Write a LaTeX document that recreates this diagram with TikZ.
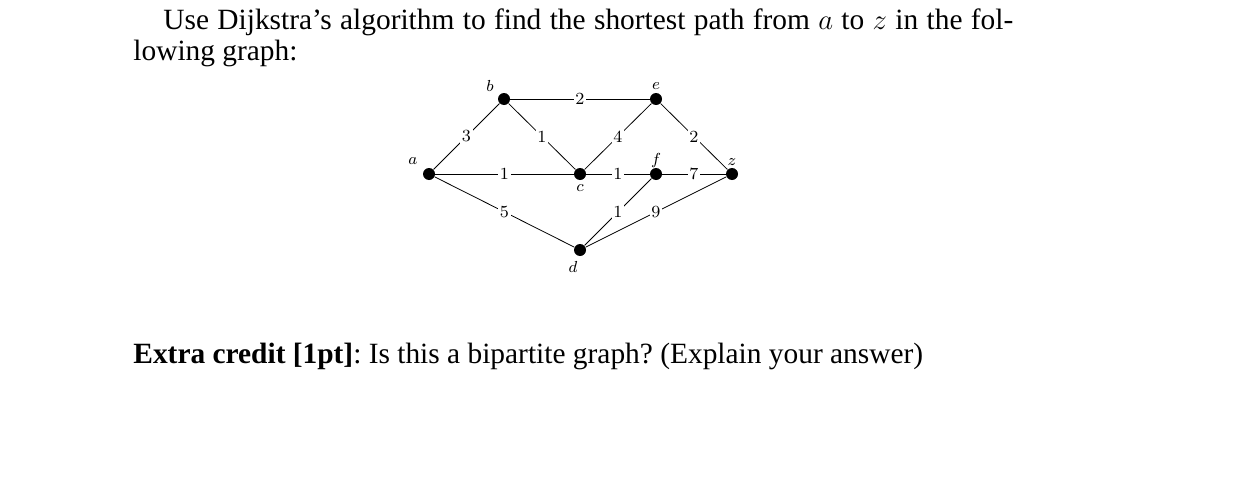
\documentclass[tikz,border=0pt]{standalone}
\usepackage{fontspec}
\setmainfont{Liberation Serif}
\newfontfamily\lmfont{Latin Modern Roman}
\frenchspacing
\begin{document}
\begin{tikzpicture}[x=0.5pt,y=-0.5pt,
  vtx/.style={circle,fill=black,inner sep=0pt,minimum size=6pt},
  vlab/.style={font=\fontsize{7.8}{9}\selectfont,inner sep=0pt},
  wlab/.style={font=\lmfont\fontsize{8.5}{9}\selectfont,fill=white,inner sep=0.8pt},
  txt/.style={anchor=base west,inner sep=0pt,font=\fontsize{14.7}{16}\selectfont},
  edge/.style={draw,line width=0.4pt}]
\useasboundingbox[fill=white] (0,0) rectangle (1242,487);
% text
\node[txt] (t1) at (163,29) {\hbox to 425pt{Use Dijkstra's algorithm to find the shortest path from $a$ to $z$ in the fol-}};
\node[txt] (t2) at (133,61) {lowing graph:};
\node[txt] (t3) at (133,363) {\textbf{Extra credit [1pt]}: Is this a bipartite graph? (Explain your answer)};
% vertices
\node[vtx] (a) at (429,174) {};
\node[vtx] (b) at (504,99) {};
\node[vtx] (e) at (656,99) {};
\node[vtx] (c) at (580,174) {};
\node[vtx] (f) at (656,174) {};
\node[vtx] (z) at (732,174) {};
\node[vtx] (d) at (580,250) {};
% vertex labels
\node[vlab] (la) at (413,161) {$a$};
\node[vlab] (lb) at (490,86) {$b$};
\node[vlab] (le) at (656,86) {$e$};
\node[vlab] (lf) at (656,160) {$f$};
\node[vlab] (lz) at (732,162) {$z$};
\node[vlab] (lc) at (580,188) {$c$};
\node[vlab] (ld) at (573,267) {$d$};
% edges
\path[edge] (a) -- node[wlab] {3} (b);
\path[edge] (b) -- node[wlab] {2} (e);
\path[edge] (b) -- node[wlab] {1} (c);
\path[edge] (c) -- node[wlab] {4} (e);
\path[edge] (e) -- node[wlab] {2} (z);
\path[edge] (a) -- node[wlab] {1} (c);
\path[edge] (c) -- node[wlab] {1} (f);
\path[edge] (f) -- node[wlab] {7} (z);
\path[edge] (a) -- node[wlab] {5} (d);
\path[edge] (d) -- node[wlab] {1} (f);
\path[edge] (d) -- node[wlab] {9} (z);
\end{tikzpicture}
\end{document}
